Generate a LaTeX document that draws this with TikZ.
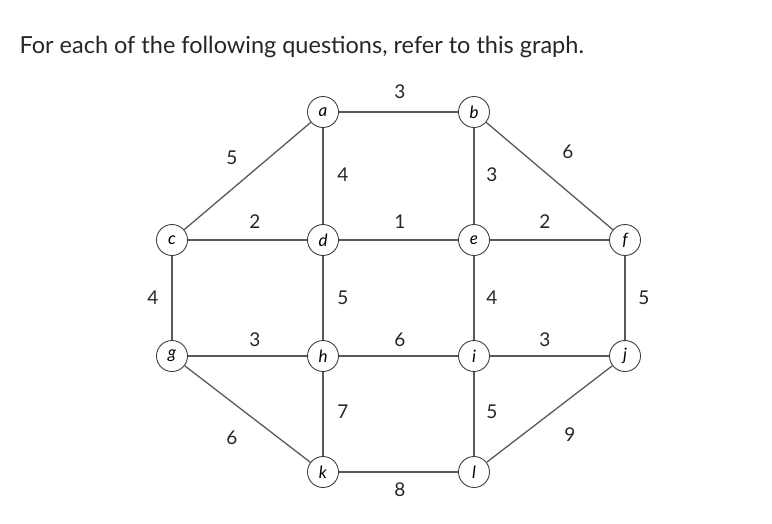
\documentclass[tikz,border=0pt]{standalone}
\usepackage{fontspec}
\setmainfont{Lato}
\begin{document}
\begin{tikzpicture}[x=1pt,y=-1pt,
  vert/.style={circle,draw=black!75,line width=0.9pt,fill=white,minimum size=31pt,inner sep=0pt,font=\fontsize{17}{17}\selectfont\itshape},
  edge/.style={draw=black!65,line width=1.3pt},
  wt/.style={font=\fontsize{19}{19}\selectfont,text=black!85}]
\useasboundingbox (0,0) rectangle (772,523);
\node[anchor=west,font=\fontsize{23.5}{23.5}\selectfont,text=black!85] (title) at (16,47) {For each of the following questions, refer to this graph.};
\node[vert] (a) at (323,112) {a};
\node[vert] (b) at (474,112) {b};
\node[vert] (c) at (172,240) {c};
\node[vert] (d) at (323,240) {d};
\node[vert] (e) at (474,240) {e};
\node[vert] (f) at (625,240) {f};
\node[vert] (g) at (172,356) {g};
\node[vert] (h) at (323,356) {h};
\node[vert] (i) at (474,356) {i};
\node[vert] (j) at (625,356) {j};
\node[vert] (k) at (323,472) {k};
\node[vert] (l) at (474,472) {l};
\foreach \u/\v in {a/b,a/c,a/d,b/e,b/f,c/d,d/e,e/f,c/g,d/h,e/i,f/j,g/h,h/i,i/j,g/k,h/k,i/l,j/l,k/l}
  \draw[edge] (\u) -- (\v);
\node[wt] (w1) at (400,92) {3};
\node[wt] (w2) at (232,158) {5};
\node[wt] (w3) at (343,175) {4};
\node[wt] (w4) at (492,175) {3};
\node[wt] (w5) at (568,152) {6};
\node[wt] (w6) at (255,222) {2};
\node[wt] (w7) at (400,222) {1};
\node[wt] (w8) at (545,222) {2};
\node[wt] (w9) at (153,298) {4};
\node[wt] (w10) at (343,298) {5};
\node[wt] (w11) at (492,298) {4};
\node[wt] (w12) at (644,298) {5};
\node[wt] (w13) at (255,340) {3};
\node[wt] (w14) at (400,340) {6};
\node[wt] (w15) at (545,340) {3};
\node[wt] (w16) at (232,438) {6};
\node[wt] (w17) at (343,412) {7};
\node[wt] (w18) at (492,412) {5};
\node[wt] (w19) at (570,435) {9};
\node[wt] (w20) at (400,490) {8};
\end{tikzpicture}
\end{document}
